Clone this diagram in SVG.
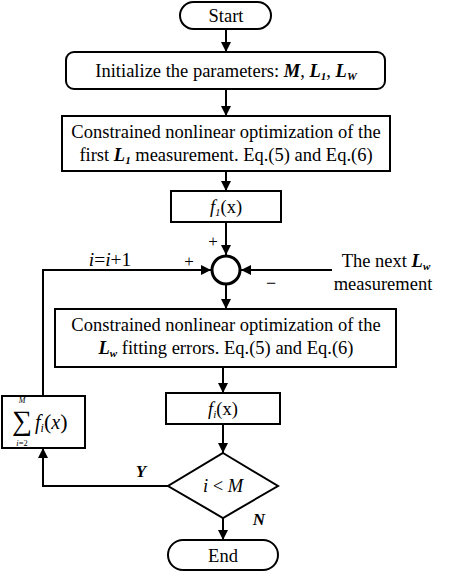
<svg xmlns="http://www.w3.org/2000/svg" width="474" height="572" viewBox="0 0 474 572">
<style>
.box{fill:#fff;stroke:#000;stroke-width:2}
.ln{fill:none;stroke:#000;stroke-width:2}
text{font-family:"Liberation Serif","Times New Roman",serif;fill:#000}
.t{font-size:18.5px;text-anchor:middle}
.bi{font-weight:bold;font-style:italic}
.i{font-style:italic}
</style>
<defs>
<marker id="ah" markerUnits="userSpaceOnUse" markerWidth="10" markerHeight="10" refX="10" refY="5" orient="auto">
<path d="M0,0 L10,5 L0,10 z" fill="#000"/>
</marker>
</defs>
<g id="connectors">
<line class="ln" x1="226" y1="29" x2="226" y2="52" marker-end="url(#ah)"/>
<line class="ln" x1="226" y1="89" x2="226" y2="116" marker-end="url(#ah)"/>
<line class="ln" x1="226" y1="171" x2="226" y2="191" marker-end="url(#ah)"/>
<line class="ln" x1="226" y1="222" x2="226" y2="255" marker-end="url(#ah)"/>
<polyline class="ln" points="43,396 43,270 211,270" marker-end="url(#ah)"/>
<line class="ln" x1="332" y1="270" x2="241" y2="270" marker-end="url(#ah)"/>
<line class="ln" x1="226" y1="285" x2="226" y2="309" marker-end="url(#ah)"/>
<line class="ln" x1="223" y1="367" x2="223" y2="393" marker-end="url(#ah)"/>
<line class="ln" x1="223" y1="424" x2="223" y2="453" marker-end="url(#ah)"/>
<polyline class="ln" points="168,486 43,486 43,448" marker-end="url(#ah)"/>
<line class="ln" x1="223" y1="518" x2="223" y2="540" marker-end="url(#ah)"/>
<text x="213" y="247" font-size="17" text-anchor="middle">+</text>
<text x="189" y="267" font-size="17" text-anchor="middle">+</text>
<text x="271" y="289" font-size="18" text-anchor="middle">−</text>
<text x="110" y="266" font-size="19.5" text-anchor="middle"><tspan class="i">i</tspan>=<tspan class="i">i</tspan>+1</text>
<text x="141" y="477" font-size="17" class="bi" text-anchor="middle">Y</text>
<text x="259" y="525" font-size="17" class="bi" text-anchor="middle">N</text>
</g>
<g id="start">
<rect class="box" x="180" y="2" width="91" height="27" rx="13.5"/>
<text class="t" x="226" y="22">Start</text>
</g>
<g id="init">
<rect class="box" x="66" y="52" width="319" height="37" rx="8"/>
<text class="t" x="226" y="77">Initialize the parameters: <tspan class="bi">M</tspan>,  <tspan class="bi">L</tspan><tspan class="bi" font-size="11" dy="3">1</tspan><tspan dy="-3">,  </tspan><tspan class="bi">L</tspan><tspan class="bi" font-size="11" dy="3">W</tspan></text>
</g>
<g id="opt1">
<rect class="box" x="62" y="116" width="328" height="55"/>
<text class="t" x="226" y="138">Constrained nonlinear optimization of the</text>
<text class="t" x="226" y="161">first <tspan class="bi">L</tspan><tspan class="bi" font-size="11" dy="3">1</tspan><tspan dy="-3"> measurement. Eq.(5) and Eq.(6)</tspan></text>
</g>
<g id="f1">
<rect class="box" x="171" y="191" width="110" height="31"/>
<text class="t" x="226" y="213"><tspan class="i">f</tspan><tspan class="i" font-size="11" dy="3">1</tspan><tspan dy="-3">(x)</tspan></text>
</g>
<g id="sumjunction">
<circle cx="226" cy="270" r="14" fill="#fff" stroke="#000" stroke-width="3"/>
</g>
<g id="nextLw">
<text x="386" y="267" font-size="18.5" text-anchor="middle">The next <tspan class="bi">L</tspan><tspan class="bi" font-size="11" dy="3">w</tspan></text>
<text x="383" y="290" font-size="18.5" text-anchor="middle">measurement</text>
</g>
<g id="opt2">
<rect class="box" x="55" y="309" width="341" height="58"/>
<text class="t" x="226" y="331">Constrained nonlinear optimization of the</text>
<text class="t" x="226" y="354"><tspan class="bi">L</tspan><tspan class="bi" font-size="11" dy="3">w</tspan><tspan dy="-3"> fitting errors. Eq.(5) and Eq.(6)</tspan></text>
</g>
<g id="fi">
<rect class="box" x="166" y="393" width="114" height="31"/>
<text class="t" x="223" y="415"><tspan class="i">f</tspan><tspan class="i" font-size="11" dy="3">i</tspan><tspan dy="-3">(x)</tspan></text>
</g>
<g id="decision">
<polygon class="box" points="223,453 278,486 223,518 168,486"/>
<text class="t" x="223" y="492"><tspan class="i">i</tspan> &lt; <tspan class="i">M</tspan></text>
</g>
<g id="sum">
<rect class="box" x="2" y="396" width="83" height="52"/>
<text x="22" y="430" font-size="28" text-anchor="middle">∑</text>
<text x="22" y="403" font-size="8" class="i" text-anchor="middle">M</text>
<text x="22" y="446" font-size="8.5" text-anchor="middle"><tspan class="i">i</tspan>=2</text>
<text x="35" y="429" font-size="20"><tspan class="i">f</tspan><tspan class="i" font-size="12" dy="3">i</tspan><tspan dy="-3" font-size="22">(</tspan><tspan class="i">x</tspan><tspan font-size="22">)</tspan></text>
</g>
<g id="end">
<rect class="box" x="168" y="540" width="110" height="30" rx="15"/>
<text class="t" x="223" y="562">End</text>
</g>
</svg>
